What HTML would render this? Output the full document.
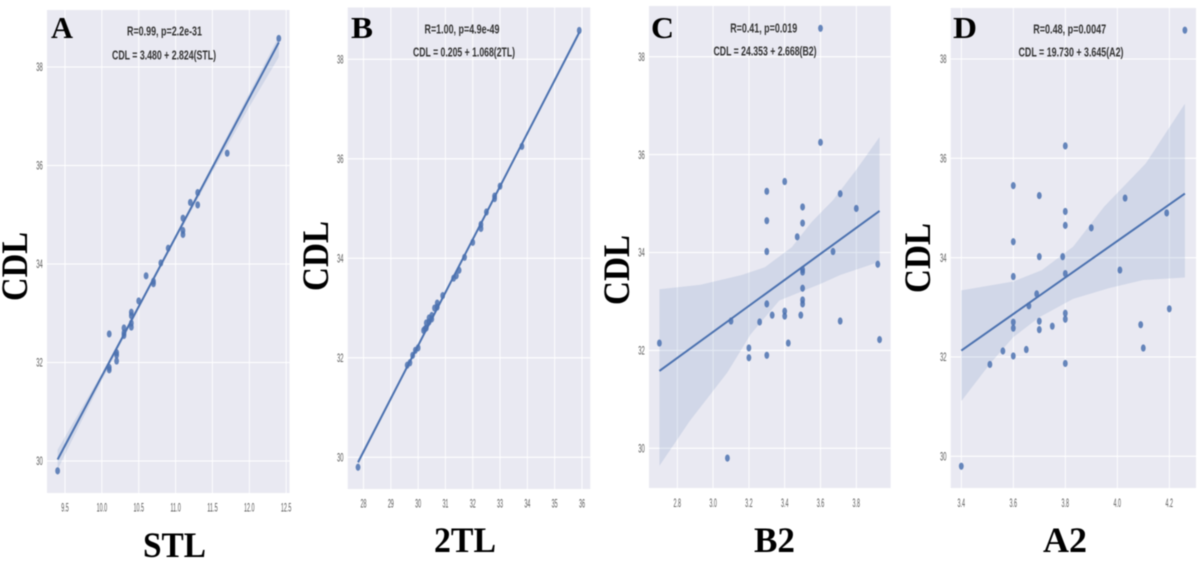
<!DOCTYPE html>
<html lang="en">
<head>
<meta charset="utf-8">
<title>CDL regression panels</title>
<style>
html,body{margin:0;padding:0;background:#fff;width:1200px;height:568px;overflow:hidden}
#figure{display:block;filter:blur(0.5px)}
.tick{font-family:"Liberation Sans",sans-serif;font-size:12px;fill:#555;text-anchor:middle}
.note{font-family:"Liberation Sans",sans-serif;font-size:13px;font-weight:bold;fill:#333;text-anchor:middle}
.big{font-family:"Liberation Serif",serif;font-weight:bold;fill:#000}
</style>
</head>
<body>
<svg id="figure" xmlns="http://www.w3.org/2000/svg" width="1200" height="568" viewBox="0 0 1200 568">
  <g id="panel-a"></g>
  <g id="panel-b"></g>
  <g id="panel-c"></g>
  <g id="panel-d"></g>

  <text class="big" x="51" y="38" font-size="31" textLength="22" lengthAdjust="spacingAndGlyphs">A</text>
  <text class="big" x="351" y="38" font-size="31" textLength="22" lengthAdjust="spacingAndGlyphs">B</text>
  <text class="big" x="651" y="38" font-size="31" textLength="23" lengthAdjust="spacingAndGlyphs">C</text>
  <text class="big" x="953" y="38" font-size="31" textLength="24" lengthAdjust="spacingAndGlyphs">D</text>

  <text class="note" x="164.5" y="35.5" textLength="75" lengthAdjust="spacingAndGlyphs">R=0.99, p=2.2e-31</text>
  <text class="note" x="164" y="59.5" textLength="104" lengthAdjust="spacingAndGlyphs">CDL = 3.480 + 2.824(STL)</text>
  <text class="note" x="462" y="33.5" textLength="75" lengthAdjust="spacingAndGlyphs">R=1.00, p=4.9e-49</text>
  <text class="note" x="464" y="56.5" textLength="102" lengthAdjust="spacingAndGlyphs">CDL = 0.205 + 1.068(2TL)</text>
  <text class="note" x="763.7" y="32.5" textLength="67" lengthAdjust="spacingAndGlyphs">R=0.41, p=0.019</text>
  <text class="note" x="765" y="55.5" textLength="103" lengthAdjust="spacingAndGlyphs">CDL = 24.353 + 2.668(B2)</text>
  <text class="note" x="1069.7" y="33.5" textLength="73" lengthAdjust="spacingAndGlyphs">R=0.48, p=0.0047</text>
  <text class="note" x="1071" y="56.5" textLength="105" lengthAdjust="spacingAndGlyphs">CDL = 19.730 + 3.645(A2)</text>

  <text class="big" transform="translate(27,301) rotate(-90)" font-size="37" textLength="69" lengthAdjust="spacingAndGlyphs">CDL</text>
  <text class="big" transform="translate(328,291) rotate(-90)" font-size="37" textLength="70" lengthAdjust="spacingAndGlyphs">CDL</text>
  <text class="big" transform="translate(629,305) rotate(-90)" font-size="37" textLength="70" lengthAdjust="spacingAndGlyphs">CDL</text>
  <text class="big" transform="translate(930,293) rotate(-90)" font-size="37" textLength="70" lengthAdjust="spacingAndGlyphs">CDL</text>

  <text class="big" x="143" y="557" font-size="36" textLength="63" lengthAdjust="spacingAndGlyphs">STL</text>
  <text class="big" x="434" y="552" font-size="36" textLength="62" lengthAdjust="spacingAndGlyphs">2TL</text>
  <text class="big" x="754" y="552" font-size="36" textLength="41" lengthAdjust="spacingAndGlyphs">B2</text>
  <text class="big" x="1043" y="552" font-size="36" textLength="44" lengthAdjust="spacingAndGlyphs">A2</text>
</svg>

<script>
var yTickLabels = ['30', '32', '34', '36', '38'];

var xTicksA = ['9.5', '10.0', '10.5', '11.0', '11.5', '12.0', '12.5'];
var xTicksB = ['28', '29', '30', '31', '32', '33', '34', '35', '36'];
var xTicksC = ['2.8', '3.0', '3.2', '3.4', '3.6', '3.8'];
var xTicksD = ['3.4', '3.6', '3.8', '4.0', '4.2'];

var stlValues = [9.4, 10.1, 10.1, 10.2, 10.2, 10.2, 10.1, 10.3, 10.3, 10.3, 10.4, 10.4, 10.4, 10.4, 10.5, 10.7, 10.7, 10.6, 10.8, 10.9, 11.1, 11.1, 11.1, 11.2, 11.3, 11.3, 11.7, 12.4];
var cdlForStl = [29.8, 31.85, 31.9, 32.03, 32.15, 32.2, 32.58, 32.55, 32.6, 32.7, 32.72, 32.8, 32.95, 33.02, 33.25, 33.6, 33.65, 33.76, 34.02, 34.32, 34.6, 34.68, 34.93, 35.25, 35.2, 35.45, 36.25, 38.58];
var fitXA = [9.4, 12.4];
var fitYA = [30.03, 38.5];
var bandXA = [9.4, 10.0, 10.5, 11.0, 11.5, 12.0, 12.4];
var bandUpperA = [30.23, 31.78, 33.17, 34.58, 36.02, 37.47, 38.62];
var bandLowerA = [29.83, 31.64, 33.08, 34.49, 35.87, 37.19, 38.2];

var tlValues = [27.8, 29.6, 29.7, 29.8, 29.9, 30.0, 30.2, 30.25, 30.3, 30.3, 30.4, 30.4, 30.5, 30.5, 30.6, 30.7, 30.7, 30.9, 31.3, 31.4, 31.5, 31.7, 32.0, 32.3, 32.3, 32.5, 32.8, 32.8, 33.0, 33.8, 35.9];
var cdlForTl = [29.8, 31.85, 31.9, 32.05, 32.15, 32.2, 32.55, 32.58, 32.6, 32.7, 32.72, 32.8, 32.78, 32.85, 33.0, 33.02, 33.1, 33.25, 33.6, 33.65, 33.76, 34.02, 34.32, 34.6, 34.68, 34.93, 35.25, 35.2, 35.45, 36.25, 38.58];
var fitXB = [27.8, 35.9];
var fitYB = [29.9, 38.54];
var bandXB = [27.8, 31.0, 33.0, 35.9];
var bandUpperB = [29.96, 33.33, 35.46, 38.6];
var bandLowerB = [29.84, 33.29, 35.42, 38.48];

var b2Values = [3.6, 3.6, 3.4, 3.3, 3.71, 3.5, 3.8, 3.3, 3.5, 3.47, 3.3, 3.67, 3.92, 3.5, 3.5, 3.5, 3.5, 3.5, 3.3, 3.4, 3.4, 3.33, 3.49, 3.71, 3.26, 3.1, 2.7, 3.42, 3.93, 3.2, 3.2, 3.3, 3.08];
var cdlForB2 = [38.58, 36.25, 35.45, 35.25, 35.2, 34.93, 34.9, 34.65, 34.6, 34.32, 34.02, 34.02, 33.76, 33.65, 33.6, 33.27, 33.03, 32.95, 32.95, 32.8, 32.7, 32.72, 32.72, 32.6, 32.58, 32.6, 32.15, 32.15, 32.22, 32.05, 31.85, 31.9, 29.8];
var fitXC = [2.7, 3.93];
var fitYC = [31.58, 34.85];
var bandUpperXC = [2.7, 2.93, 3.16, 3.29, 3.44, 3.55, 3.67, 3.8, 3.93];
var bandUpperC = [33.25, 33.34, 33.54, 33.7, 34.11, 34.62, 35.07, 35.69, 36.36];
var bandLowerXC = [2.7, 2.87, 3.08, 3.21, 3.37, 3.6, 3.71, 3.93];
var bandLowerC = [29.64, 30.56, 31.55, 32.33, 33.02, 33.36, 33.54, 33.81];

var a2Values = [4.26, 3.8, 3.6, 3.7, 4.03, 3.8, 4.19, 3.8, 3.9, 3.6, 3.7, 3.79, 4.01, 3.6, 3.8, 3.69, 3.66, 4.2, 3.6, 3.6, 3.7, 3.7, 3.75, 3.8, 3.8, 4.09, 4.1, 3.56, 3.65, 3.6, 3.51, 3.8, 3.4];
var cdlForA2 = [38.58, 36.25, 35.45, 35.25, 35.2, 34.93, 34.9, 34.65, 34.6, 34.32, 34.02, 34.02, 33.75, 33.62, 33.68, 33.27, 33.03, 32.97, 32.7, 32.58, 32.72, 32.55, 32.62, 32.88, 32.76, 32.65, 32.18, 32.12, 32.15, 32.02, 31.85, 31.87, 29.8];
var fitXD = [3.4, 4.26];
var fitYD = [32.13, 35.29];
var bandUpperXD = [3.4, 3.6, 3.71, 3.83, 3.95, 4.11, 4.26];
var bandUpperD = [33.34, 33.52, 33.75, 34.22, 35.03, 35.9, 37.1];
var bandLowerXD = [3.4, 3.51, 3.6, 3.7, 3.83, 3.97, 4.1, 4.26];
var bandLowerD = [31.11, 31.86, 32.4, 32.8, 33.17, 33.39, 33.55, 33.6];

var SVG_NS = 'http://www.w3.org/2000/svg';

function linearScale(d0, r0, d1, r1) {
  return function (v) { return r0 + (v - d0) * (r1 - r0) / (d1 - d0); };
}

function tickWidth(label) {
  var width = 0;
  for (var i = 0; i < label.length; i++) { width += label[i] === '.' ? 1.5 : 3; }
  return width;
}

function drawPanel(cfg) {
  var root = document.getElementById(cfg.id);
  var sx = linearScale(cfg.xA, cfg.pxA, cfg.xB, cfg.pxB);
  var sy = linearScale(30, cfg.py30, 38, cfg.py38);

  var bg = document.createElementNS(SVG_NS, 'rect');
  
  
  bg.setAttribute('x', cfg.left);
  bg.setAttribute('y', cfg.top);
  bg.setAttribute('width', cfg.right - cfg.left);
  bg.setAttribute('height', cfg.bottom - cfg.top);
  bg.setAttribute('fill', '#e9e9f2');
  root.appendChild(bg);

  cfg.xTicks.forEach(function (label) {
    var px = sx(Number(label));
    var grid = document.createElementNS(SVG_NS, 'line');
    
    
    grid.setAttribute('x1', px);
    grid.setAttribute('x2', px);
    grid.setAttribute('y1', cfg.top);
    grid.setAttribute('y2', cfg.bottom);
    grid.setAttribute('stroke', '#ffffff');
    grid.setAttribute('stroke-width', '0.9');
    root.appendChild(grid);

    var tick = document.createElementNS(SVG_NS, 'text');
    
    
    tick.setAttribute('class', 'tick');
    tick.setAttribute('x', px);
    tick.setAttribute('y', cfg.xLabelY);
    tick.setAttribute('textLength', tickWidth(label));
    tick.setAttribute('lengthAdjust', 'spacingAndGlyphs');
    tick.textContent = label;
    root.appendChild(tick);
  });

  yTickLabels.forEach(function (label) {
    var py = sy(Number(label));
    var grid = document.createElementNS(SVG_NS, 'line');
    
    
    grid.setAttribute('x1', cfg.left);
    grid.setAttribute('x2', cfg.right);
    grid.setAttribute('y1', py);
    grid.setAttribute('y2', py);
    grid.setAttribute('stroke', '#ffffff');
    grid.setAttribute('stroke-width', '1.1');
    root.appendChild(grid);

    var tick = document.createElementNS(SVG_NS, 'text');
    
    
    tick.setAttribute('class', 'tick');
    tick.setAttribute('x', cfg.left - 7.5);
    tick.setAttribute('y', py + 4.2);
    tick.setAttribute('textLength', '6.5');
    tick.setAttribute('lengthAdjust', 'spacingAndGlyphs');
    tick.textContent = label;
    root.appendChild(tick);
  });

  var pts = [];
  cfg.upperX.forEach(function (x, i) { pts.push(sx(x) + ',' + sy(cfg.upperY[i])); });
  for (var j = cfg.lowerX.length - 1; j >= 0; j--) {
    pts.push(sx(cfg.lowerX[j]) + ',' + sy(cfg.lowerY[j]));
  }
  var band = document.createElementNS(SVG_NS, 'polygon');
  
  
  band.setAttribute('points', pts.join(' '));
  band.setAttribute('fill', '#4c72b0');
  band.setAttribute('fill-opacity', '0.15');
  root.appendChild(band);

  cfg.xs.forEach(function (x, i) {
    var dot = document.createElementNS(SVG_NS, 'ellipse');
    
    
    dot.setAttribute('cx', sx(x));
    dot.setAttribute('cy', sy(cfg.ys[i]));
    dot.setAttribute('rx', '2.4');
    dot.setAttribute('ry', '3.6');
    dot.setAttribute('fill', '#4c72b0');
    dot.setAttribute('fill-opacity', '0.85');
    root.appendChild(dot);
  });

  var fit = document.createElementNS(SVG_NS, 'line');
  
  
  fit.setAttribute('x1', sx(cfg.fitX[0]));
  fit.setAttribute('y1', sy(cfg.fitY[0]));
  fit.setAttribute('x2', sx(cfg.fitX[1]));
  fit.setAttribute('y2', sy(cfg.fitY[1]));
  fit.setAttribute('stroke', '#4c72b0');
  fit.setAttribute('stroke-width', '2');
  root.appendChild(fit);
}

drawPanel({
  id: 'panel-a', left: 47, right: 289.5, top: 10, bottom: 493,
  xA: 9.5, pxA: 65, xB: 12.0, pxB: 249.3, py30: 461, py38: 67, xLabelY: 511.5,
  xTicks: xTicksA, xs: stlValues, ys: cdlForStl, fitX: fitXA, fitY: fitYA,
  upperX: bandXA, upperY: bandUpperA, lowerX: bandXA, lowerY: bandLowerA
});
drawPanel({
  id: 'panel-b', left: 347.7, right: 590.3, top: 7.5, bottom: 489,
  xA: 28, pxA: 363.5, xB: 36, pxB: 582, py30: 457.3, py38: 59.3, xLabelY: 507.5,
  xTicks: xTicksB, xs: tlValues, ys: cdlForTl, fitX: fitXB, fitY: fitYB,
  upperX: bandXB, upperY: bandUpperB, lowerX: bandXB, lowerY: bandLowerB
});
drawPanel({
  id: 'panel-c', left: 649, right: 890.7, top: 6, bottom: 488,
  xA: 2.8, pxA: 677.3, xB: 3.8, pxB: 856.3, py30: 448.3, py38: 56.7, xLabelY: 507,
  xTicks: xTicksC, xs: b2Values, ys: cdlForB2, fitX: fitXC, fitY: fitYC,
  upperX: bandUpperXC, upperY: bandUpperC, lowerX: bandLowerXC, lowerY: bandLowerC
});
drawPanel({
  id: 'panel-d', left: 950.7, right: 1196, top: 8, bottom: 488,
  xA: 3.4, pxA: 961.3, xB: 4.2, pxB: 1169.3, py30: 456.3, py38: 59, xLabelY: 507,
  xTicks: xTicksD, xs: a2Values, ys: cdlForA2, fitX: fitXD, fitY: fitYD,
  upperX: bandUpperXD, upperY: bandUpperD, lowerX: bandLowerXD, lowerY: bandLowerD
});
</script>
</body>
</html>
